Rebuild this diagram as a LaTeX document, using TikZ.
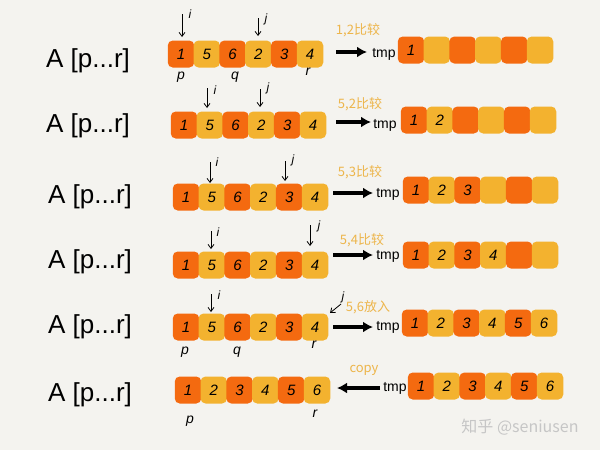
\documentclass[tikz,border=0pt]{standalone}
\usepackage{fontspec}
\setmainfont{Liberation Sans}
\newfontfamily\cjk{Noto Sans CJK SC}
\usetikzlibrary{arrows.meta}
\definecolor{bg}{HTML}{F4F3EF}
\definecolor{dk}{HTML}{F46A10}
\definecolor{lt}{HTML}{F3B22F}
\definecolor{lab}{HTML}{EDB54A}
\definecolor{wm}{HTML}{C6C6C6}
\tikzset{
  cell/.style={rounded corners=5pt, minimum width=26.5pt, minimum height=27pt, inner sep=0pt,
    font=\fontsize{15}{15}\selectfont\itshape},
  arrlabel/.style={font=\fontsize{26}{26}\selectfont, inner sep=0pt},
  tmplabel/.style={font=\fontsize{14}{14}\selectfont, inner sep=0pt},
  steplabel/.style={text=lab, font=\fontsize{13}{13}\selectfont\cjk, inner sep=0pt},
  idxlabel/.style={font=\fontsize{14}{14}\selectfont\itshape, inner sep=0pt},
  ptrlabel/.style={font=\fontsize{12}{12}\selectfont\itshape, inner sep=0pt},
  bigarrow/.style={line width=3.2pt, -{Latex[length=10pt,width=11pt]}},
  ptr/.style={line width=0.8pt, -{Straight Barb[length=4pt,width=6pt]}},
}
\newcommand\cellrow[4]{%
  \foreach \v [count=\k] in {#4}{%
    \ifodd\k\relax\def\cc{dk}\else\def\cc{lt}\fi
    \node[cell,fill=\cc] (#1c\k) at ({#2+(\k-1)*25.8},#3) {\v};
  }}
\begin{document}
\begin{tikzpicture}[x=1pt,y=-1pt]
\fill[bg] (0,0) rectangle (600,450);
\useasboundingbox (0,0) rectangle (600,450);

% left labels
\node[arrlabel] (A1) at (88,61) {A [p...r]};
\node[arrlabel] (A2) at (88,126) {A [p...r]};
\node[arrlabel] (A3) at (90,197) {A [p...r]};
\node[arrlabel] (A4) at (90,262) {A [p...r]};
\node[arrlabel] (A5) at (90,327) {A [p...r]};
\node[arrlabel] (A6) at (90,395) {A [p...r]};

% row 1
\cellrow{L1}{181}{54}{1,5,6,2,3,4}
\cellrow{T1}{411}{50}{1,{},{},{},{},{}}
\coordinate (a1s) at (336,52); \coordinate (a1e) at (367,52);
\draw[bigarrow] (a1s) -- (a1e);
\node[tmplabel] (tmp1) at (384,54) {tmp};
\node[steplabel] (s1) at (358,30) {1,2比较};
\coordinate (i1s) at (182,14); \coordinate (i1e) at (182,37);
\draw[ptr] (i1s) -- (i1e); \node[ptrlabel] (i1) at (190,14) {i};
\coordinate (j1s) at (258,18); \coordinate (j1e) at (258,36);
\draw[ptr] (j1s) -- (j1e); \node[ptrlabel] (j1) at (266,19) {j};
\node[idxlabel] (p1) at (181,77) {p};
\node[idxlabel] (q1) at (235,77) {q};
\node[idxlabel] (r1) at (308,72) {r};

% row 2
\cellrow{L2}{184}{125}{1,5,6,2,3,4}
\cellrow{T2}{414}{120}{1,2,{},{},{},{}}
\coordinate (a2s) at (336,122); \coordinate (a2e) at (371,122);
\draw[bigarrow] (a2s) -- (a2e);
\node[tmplabel] (tmp2) at (385,125) {tmp};
\node[steplabel] (s2) at (360,104) {5,2比较};
\coordinate (i2s) at (207,88); \coordinate (i2e) at (207,108);
\draw[ptr] (i2s) -- (i2e); \node[ptrlabel] (i2) at (215,90) {i};
\coordinate (j2s) at (260,89); \coordinate (j2e) at (260,107);
\draw[ptr] (j2s) -- (j2e); \node[ptrlabel] (j2) at (268,88) {j};

% row 3
\cellrow{L3}{186}{197}{1,5,6,2,3,4}
\cellrow{T3}{416}{190}{1,2,3,{},{},{}}
\coordinate (a3s) at (333,193); \coordinate (a3e) at (373,193);
\draw[bigarrow] (a3s) -- (a3e);
\node[tmplabel] (tmp3) at (388,194) {tmp};
\node[steplabel] (s3) at (360,172) {5,3比较};
\coordinate (i3s) at (210,162); \coordinate (i3e) at (210,183);
\draw[ptr] (i3s) -- (i3e); \node[ptrlabel] (i3) at (217,162) {i};
\coordinate (j3s) at (285,161); \coordinate (j3e) at (285,181);
\draw[ptr] (j3s) -- (j3e); \node[ptrlabel] (j3) at (293,160) {j};

% row 4
\cellrow{L4}{186}{265}{1,5,6,2,3,4}
\cellrow{T4}{416}{255}{1,2,3,4,{},{}}
\coordinate (a4s) at (333,255); \coordinate (a4e) at (373,255);
\draw[bigarrow] (a4s) -- (a4e);
\node[tmplabel] (tmp4) at (388,256) {tmp};
\node[steplabel] (s4) at (362,240) {5,4比较};
\coordinate (i4s) at (211,231); \coordinate (i4e) at (211,249);
\draw[ptr] (i4s) -- (i4e); \node[ptrlabel] (i4) at (218,232) {i};
\coordinate (j4s) at (310,225); \coordinate (j4e) at (310,246);
\draw[ptr] (j4s) -- (j4e); \node[ptrlabel] (j4) at (319,226) {j};

% row 5
\cellrow{L5}{186}{327}{1,5,6,2,3,4}
\cellrow{T5}{415}{323}{1,2,3,4,5,6}
\coordinate (a5s) at (333,327); \coordinate (a5e) at (373,327);
\draw[bigarrow] (a5s) -- (a5e);
\node[tmplabel] (tmp5) at (388,327) {tmp};
\node[steplabel] (s5) at (368,307) {5,6放入};
\coordinate (i5s) at (211,294); \coordinate (i5e) at (211,312);
\draw[ptr] (i5s) -- (i5e); \node[ptrlabel] (i5) at (219,295) {i};
\coordinate (j5s) at (341,304); \coordinate (j5e) at (330,313);
\draw[ptr] (j5s) -- (j5e); \node[ptrlabel] (j5) at (343,297) {j};
\node[idxlabel] (p5) at (185,352) {p};
\node[idxlabel] (q5) at (237,352) {q};
\node[idxlabel] (r5) at (314,345) {r};

% row 6
\cellrow{L6}{188}{390}{1,2,3,4,5,6}
\cellrow{T6}{421}{386}{1,2,3,4,5,6}
\coordinate (a6s) at (380,388); \coordinate (a6e) at (337,388);
\draw[bigarrow] (a6s) -- (a6e);
\node[tmplabel] (tmp6) at (395,388) {tmp};
\node[steplabel] (s6) at (364,370) {copy};
\node[idxlabel] (p6) at (190,421) {p};
\node[idxlabel] (r6) at (315,414) {r};

% watermark
\node[text=wm, font=\fontsize{16}{16}\selectfont\cjk, inner sep=0pt] (wm) at (520,427) {知乎 @seniusen};
\end{tikzpicture}
\end{document}
